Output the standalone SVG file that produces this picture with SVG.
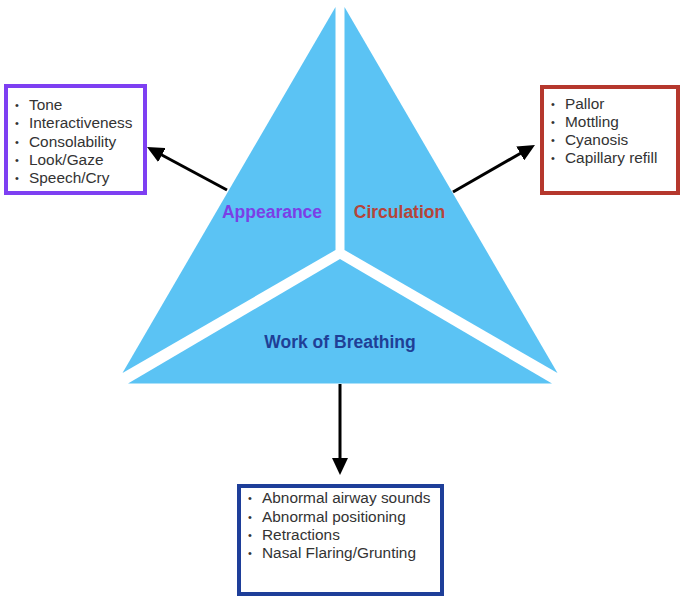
<svg xmlns="http://www.w3.org/2000/svg" width="685" height="601" viewBox="0 0 685 601">
<style>
  .piece { fill: #5BC3F4; }
  .lbl { font-family: "Liberation Sans", Arial, sans-serif; font-weight: bold; font-size: 17.5px; text-anchor: middle; }
  .item { font-family: "Liberation Sans", Arial, sans-serif; font-size: 15.4px; fill: #333333; }
  .bul { font-family: "Liberation Sans", Arial, sans-serif; font-size: 11px; fill: #333333; text-anchor: middle; }
  .box { fill: #ffffff; stroke-width: 4; }
  .conn { stroke: #000000; stroke-width: 3; fill: none; }
</style>
<defs>
  <marker id="arrow" viewBox="0 0 17 16" refX="7" refY="8" markerWidth="17" markerHeight="16" markerUnits="userSpaceOnUse" orient="auto">
    <path d="M0,0 L17,8 L0,16 z" fill="#000000"/>
  </marker>
</defs>
<rect width="685" height="601" fill="#ffffff"/>

<g id="appearance">
  <polygon class="piece" points="335.5,7 335.5,250 122.5,373"/>
  <text class="lbl" x="272" y="218" fill="#7B3FE6">Appearance</text>
</g>
<g id="circulation">
  <polygon class="piece" points="344.5,7 344.5,250 557.5,373"/>
  <text class="lbl" x="399.5" y="218" fill="#B5443A">Circulation</text>
</g>
<g id="work-of-breathing">
  <polygon class="piece" points="340,259 552,383.5 128,383.5"/>
  <text class="lbl" x="340" y="348" fill="#1F3F96">Work of Breathing</text>
</g>

<g id="connectors">
  <line class="conn" x1="227" y1="190" x2="155.8" y2="151.7" marker-end="url(#arrow)"/>
  <line class="conn" x1="453" y1="192" x2="526.3" y2="150" marker-end="url(#arrow)"/>
  <line class="conn" x1="340" y1="384" x2="340" y2="465" marker-end="url(#arrow)"/>
</g>

<g id="appearance-box">
  <rect class="box" x="6" y="86" width="139" height="107" stroke="#7E3FF2"/>
  <text class="bul" x="17" y="109">•</text><text class="item" x="29" y="110">Tone</text>
  <text class="bul" x="17" y="127">•</text><text class="item" x="29" y="128">Interactiveness</text>
  <text class="bul" x="17" y="146">•</text><text class="item" x="29" y="147">Consolability</text>
  <text class="bul" x="17" y="164">•</text><text class="item" x="29" y="165">Look/Gaze</text>
  <text class="bul" x="17" y="182">•</text><text class="item" x="29" y="183">Speech/Cry</text>
</g>

<g id="circulation-box">
  <rect class="box" x="542" y="87" width="136" height="106" stroke="#B5372D"/>
  <text class="bul" x="553" y="108">•</text><text class="item" x="565" y="109">Pallor</text>
  <text class="bul" x="553" y="126">•</text><text class="item" x="565" y="127">Mottling</text>
  <text class="bul" x="553" y="144">•</text><text class="item" x="565" y="145">Cyanosis</text>
  <text class="bul" x="553" y="162">•</text><text class="item" x="565" y="163">Capillary refill</text>
</g>

<g id="breathing-box">
  <rect class="box" x="239" y="486" width="203" height="108" stroke="#1E3E99"/>
  <text class="bul" x="250" y="502">•</text><text class="item" x="262" y="503">Abnormal airway sounds</text>
  <text class="bul" x="250" y="521">•</text><text class="item" x="262" y="522">Abnormal positioning</text>
  <text class="bul" x="250" y="539">•</text><text class="item" x="262" y="540">Retractions</text>
  <text class="bul" x="250" y="557">•</text><text class="item" x="262" y="558">Nasal Flaring/Grunting</text>
</g>
</svg>
